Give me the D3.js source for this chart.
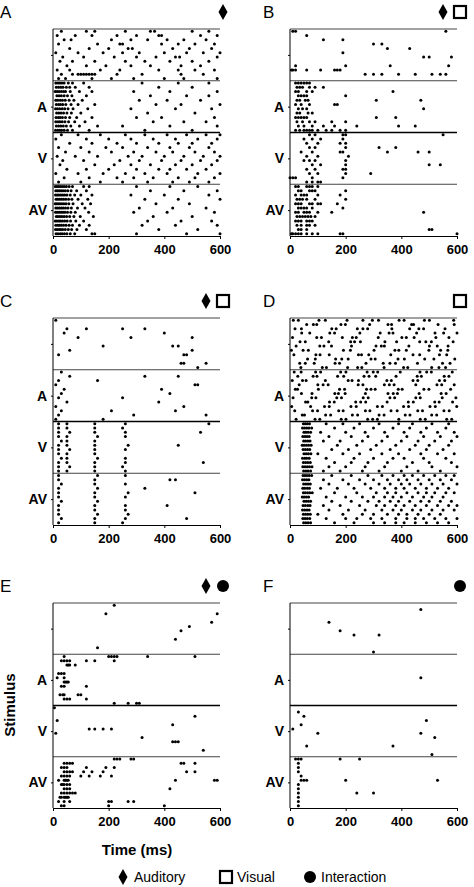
<!DOCTYPE html>
<html><head><meta charset="utf-8">
<script src="https://cdn.jsdelivr.net/npm/d3@7"></script>
<style>body{margin:0;background:#fff}</style>
</head><body><div id="wrapper"></div>
<script>
// spike times (ms) per trial, 4 stimulus blocks per unit: spont, A, V, AV
const sectionLabels = ["", "A", "V", "AV"];
const xTicks = [0, 200, 400, 600];

const unitA = [
 [[30,120,150,260,350,365,500,560],[15,80,140,230,300,380,390,530,590],[40,65,210,280,340,410,470,550],[20,160,240,250,390,450,510,580],[60,130,200,270,285,430,490,570],[10,90,180,250,310,400,480,540,600],[35,110,220,300,370,440,455,590],[25,70,150,260,330,420,500,560],[50,120,190,280,350,460,530],[15,60,170,240,380,450,510,580],[30,70,90,100,110,120,130,140,150,230,320,460,540],[20,45,140,210,290,400,470,590]],
 [[10,18,25,32,40,55,70,110,320,450,560],[12,20,28,36,48,60,80,130,380,500],[8,15,22,30,38,45,62,95,140,290,420,590],[14,22,30,40,52,68,120,350,480,560],[10,17,26,34,44,58,75,105,310,410,530],[12,20,27,35,46,65,90,150,370,460,600],[9,16,24,33,42,54,72,125,280,440,570],[13,21,29,38,50,66,100,340,510],[11,19,26,34,45,60,85,140,300,390,580],[10,18,25,33,43,56,78,115,360,470,550],[12,20,28,37,48,64,95,160,250,420,590],[9,17,24,31,40,52,70,130,330,500]],
 [[30,90,170,260,330,410,480,550,600],[10,120,200,280,360,440,520,590],[60,140,230,300,380,450,500,570],[20,100,190,250,340,420,490,560],[45,130,210,290,370,430,510,580],[15,80,160,270,320,400,470,540,600],[35,110,240,310,390,460,530,590],[25,150,220,280,350,440,500,570],[50,120,200,300,380,420,480,550],[10,90,180,260,330,410,520,600],[40,130,230,290,360,450,510,580],[20,100,170,250,340,430,490,560]],
 [[8,14,20,26,33,40,48,58,70,110,130,300,420,520],[10,16,22,29,36,44,53,65,85,120,350,470,590],[9,15,21,28,35,42,50,62,78,100,140,280,400,560],[11,17,24,31,38,46,56,68,90,125,330,450,600],[8,13,19,25,32,39,47,57,72,105,135,370,490],[10,16,23,30,37,45,54,66,88,115,310,430,550],[9,15,22,29,36,43,52,64,80,128,290,410,580],[12,18,25,32,40,49,60,75,98,145,360,500],[8,14,21,27,34,42,51,63,82,110,340,460,570],[10,17,23,30,38,47,58,70,95,130,320,440,590],[9,15,22,28,35,44,55,67,86,120,380,520],[11,18,26,33,41,50,62,78,140,150,300,480,600]]
];
const unitB = [
 [[10,20,560],[60],[120,190],[300,330],[350,430],[190],[480,500,580],[],[20,200,360,570],[5,10,20,60,110,160,170,180],[270,300,330,390,450,510,540,560],[]],
 [[20,30,40,50,60,70],[25,35,45,70,90,120],[20,30,60,80,370],[30,40,50,60,200],[25,35,55,65,310,470],[20,40,70,160,170],[30,45,60,480],[25,35,65,80],[20,30,40,50,60,310,380],[25,45,70,90,150,200],[30,50,80,120,160,240,390,450],[20,35,50,60,70,80,100,130,150,180,200]],
 [[70,90,190,200,550],[50,80,110,190],[60,100,180,200],[70,90,200,320,380],[40,80,180,190,350,460,500],[60,100,210],[50,70,90,200],[80,110,200,500,540],[60,90,190,200],[70,100,200,290],[0,10,20,80,190],[60,80,100,110]],
 [[20,30,60,70,80,100],[30,40,70,80,90,200],[20,40,50,60,100,180],[25,35,45,60,90,200],[20,30,40,70,80,100,110,170],[30,40,50,60,80,190],[20,30,50,60,70,100,150,480],[25,35,45,55,65,75,90],[20,30,40,60,70,80],[25,40,60,70,90],[30,40,60,500,510],[5,10,20,30,40,60,80,100,180,190,600]]
];
const unitC = [
 [[10],[],[50,120,250,330],[40,400],[90,280,500],[],[180,430,450],[60,500],[20,470,480],[],[460,470,550],[520]],
 [[30],[60,330,450],[20,160],[10,510,520],[40,390],[30,420],[20,250],[50,380],[10,470],[30,210,440],[20,290,550],[10,180]],
 [[20,50,150,260,560],[20,50,150,250],[20,60,150,260,530],[20,50,160,260],[30,50,150],[20,50,150,270,450],[20,60,150,260],[20,50,150],[30,50,160,260],[20,50,150,260,540],[20,60,150,250],[20,50,150,260]],
 [[20,160,260],[20,150,420,440],[30,150,260],[20,160,330],[20,150,270,510],[20,150,260],[30,160],[20,150,260,410],[20,150,260],[20,160,270],[30,150,260,480],[20,150,250]]
];
const unitD = [
 [[12,30,104,127,205,262,296,318,392,410,483,501,588],[60,84,96,183,199,286,352,365,437,444,532,590],[18,41,150,166,242,262,279,366,430,463,480,557],[42,71,143,160,251,324,356,370,455,521,552,600],[9,96,113,188,224,238,317,402,418,446,524,571],[36,55,139,218,232,253,341,383,466,488,508,586],[22,107,122,149,221,309,328,339,427,501,529,568],[5,47,66,192,217,302,377,391,418,499,541,567],[14,93,108,141,246,257,283,362,442,466,537,563],[63,91,164,186,209,291,306,388,411,484,517,592],[35,55,87,162,178,273,335,359,379,458,548,575],[39,116,131,207,243,258,338,408,423,509,535,559]],
 [[15,40,92,110,182,201,277,299,315,396,467,491,508,583],[28,83,97,171,193,266,284,308,381,457,472,554,571],[8,45,58,127,209,223,246,348,364,442,459,537,556],[33,100,119,137,245,262,339,357,374,452,528,545,590],[19,27,102,178,196,275,291,306,389,403,481,499,577],[41,79,161,174,198,271,352,371,386,464,543,561],[11,78,93,168,185,263,281,359,376,452,468,547,596],[56,64,142,159,236,254,272,349,425,443,520,536,584],[6,74,124,141,219,238,314,332,408,426,503,522,599],[17,81,99,175,191,271,287,363,385,459,476,553,572],[44,52,128,146,224,243,320,338,414,431,509,527],[22,90,107,184,201,279,297,314,391,468,486,563,581]],
 [[48,55,62,70,130,190,250,320,390,440,510,570],[45,52,60,68,78,160,230,300,370,430,490,560],[50,57,65,74,110,200,270,340,410,470,530,590],[46,54,61,69,140,220,280,350,420,480,540,600],[49,56,64,72,120,180,260,330,400,460,520,580],[44,51,59,67,76,170,240,310,380,450,500,570],[47,55,63,71,150,210,290,360,430,490,550],[50,58,66,75,100,190,250,330,390,470,530,590],[45,53,60,69,130,230,300,370,410,480,560],[48,56,64,73,160,220,280,350,440,500,580],[46,54,62,70,79,140,200,270,340,420,510,600],[49,57,65,74,120,180,260,320,400,460,540]],
 [[47,54,61,69,78,150,220,280,330,370,410,440,480,520,560,590],[45,52,60,68,120,190,250,300,350,390,420,460,500,540,580],[49,57,65,73,140,210,270,320,360,400,430,470,510,550,600],[46,53,62,70,110,170,230,290,340,380,410,450,490,530,570],[48,55,63,71,80,160,240,310,350,380,420,460,490,520,560,590],[44,51,59,67,130,200,260,300,340,370,400,440,480,510,550],[50,58,66,74,150,220,280,320,360,390,430,470,500,540,580],[47,55,64,72,120,180,250,310,340,380,410,450,490,530,570,600],[45,53,61,69,140,210,270,330,370,400,440,470,510,550,590],[48,56,64,73,100,190,260,300,350,390,420,460,500,540],[46,54,62,71,130,200,240,290,330,380,420,450,480,520,560,600],[49,57,65,74,160,230,300,340,380,410,450,490,530,570]]
];
const unitE = [
 [[220],[],[190,590],[],[570],[490],[460],[],[440],[],[160],[]],
 [[40,200,210,220,230,340,510],[30,40,50,60,120,150,220],[50,55,60,80],[],[20,30,40],[15,40],[40,45,50,55],[30,40,120],[],[25,35,40,90,100],[40,50,60,120],[220,270,300,310]],
 [[5],[],[510],[15],[430],[130,150,180,210],[10],[320],[430,440,450],[],[540],[]],
 [[220,230,240,280,290],[40,50,60,70,460,470,510],[30,40,50,120,190,220],[40,50,60,70,110,140,180,480,510],[30,40,50,60,100,130,170,210],[20,40,45,50,55,440,580,590],[30,35,40,50,60],[40,50,60,420],[30,40,50,60,70,80],[25,30,40,45,50,55],[20,40,60,200,210,270,290],[30,40,200,400]]
];
const unitF = [
 [[],[470],[],[],[140],[],[180],[230,320],[],[],[],[300]],
 [[],[],[],[],[],[470],[],[],[],[],[],[]],
 [[],[30],[50],[490],[40],[10],[100,470],[520],[],[60,370],[],[510]],
 [[20,30,40,180,250],[30],[30],[30],[40],[40,50,60,200,530],[30],[30],[30,240,300],[30],[30],[30]]
];
const units = [unitA, unitB, unitC, unitD, unitE, unitF];
const letters = ["A","B","C","D","E","F"];
const unitMarks = [["diamond"],["diamond","square"],["diamond","square"],["square"],["diamond","circle"],["circle"]];
const legendItems = [["diamond","Auditory"],["square","Visual"],["circle","Interaction"]];

const W = 474, H = 887;
const svg = d3.select("#wrapper").append("svg").attr("width", W).attr("height", H)
  .style("font-family", "Arial, 'Liberation Sans', sans-serif");

const cols = [53, 290], pw = 167;
const rows = [{top: 29, h: 207}, {top: 318, h: 207}, {top: 603, h: 205}];

function drawMark(g, type, x, y) {
  if (type === "diamond") {
    g.append("path").attr("d", "M0,-8L4.5,0L0,8L-4.5,0Z").attr("transform", `translate(${x},${y})`).attr("fill", "#000");
  } else if (type === "square") {
    g.append("rect").attr("x", x - 6).attr("y", y - 6).attr("width", 12).attr("height", 12)
      .attr("fill", "none").attr("stroke", "#000").attr("stroke-width", 2.2);
  } else {
    g.append("circle").attr("cx", x).attr("cy", y).attr("r", 6).attr("fill", "#000");
  }
}

units.forEach((unit, k) => {
  const c = k % 2, r = Math.floor(k / 2);
  const left = cols[c], top = rows[r].top, ph = rows[r].h;
  const g = svg.append("g").attr("transform", `translate(${left},${top})`);
  const x = d3.scaleLinear().domain([0, 600]).range([0, pw]);
  const sec = d3.scaleBand().domain(d3.range(4)).range([0, ph]);

  // spikes
  unit.forEach((trials, s) => {
    const ty = d3.scaleBand().domain(d3.range(trials.length)).range([sec(s), sec(s) + sec.bandwidth()]);
    trials.forEach((times, t) => {
      g.selectAll(null).data(times).enter().append("circle")
        .attr("cx", d => x(d)).attr("cy", ty(t) + ty.bandwidth() / 2)
        .attr("r", 1.5).attr("fill", "#000");
    });
  });

  // section lines
  g.selectAll("line.sep").data(d3.range(4)).enter().append("line")
    .attr("x1", 0).attr("x2", pw).attr("y1", d => sec(d)).attr("y2", d => sec(d))
    .attr("stroke", d => d === 2 ? "#000" : "#444").attr("stroke-width", d => d === 2 ? 1.5 : 1);

  // x axis
  const xa = g.append("g").attr("transform", `translate(0,${ph})`)
    .call(d3.axisBottom(x).tickValues(xTicks).tickSize(3).tickSizeOuter(0));
  xa.select(".domain").attr("stroke", "#000");
  xa.selectAll("text").attr("font-size", 13).attr("font-weight", "bold").attr("dy", "0.9em").attr("fill", "#000");

  // y axis
  const ya = g.append("g").call(d3.axisLeft(d3.scalePoint().domain(d3.range(4)).range([sec.bandwidth() / 2, ph - sec.bandwidth() / 2]))
    .tickFormat(i => sectionLabels[i]).tickSize(2).tickSizeOuter(0));
  ya.select(".domain").attr("d", `M0,0V${ph}`).attr("stroke", "#000");
  ya.selectAll("text").attr("font-size", 14).attr("font-weight", "bold").attr("fill", "#000").attr("x", -6);

  // panel letter & symbols
  svg.append("text").attr("x", c ? 263 : 0).attr("y", top - 11).attr("font-size", 17).text(letters[k]);
  const marks = unitMarks[k];
  marks.forEach((m, i) => drawMark(svg, m, left + pw + 3 - (marks.length - 1 - i) * 17, top - 17));
});

svg.append("text").attr("transform", "translate(15,705) rotate(-90)").attr("text-anchor", "middle")
  .attr("font-size", 15).attr("font-weight", "bold").text("Stimulus");
svg.append("text").attr("x", 137).attr("y", 855).attr("text-anchor", "middle")
  .attr("font-size", 15).attr("font-weight", "bold").text("Time (ms)");

const lx = [123, 226, 310];
legendItems.forEach(([m, label], i) => {
  drawMark(svg, m, lx[i], 877);
  svg.append("text").attr("x", lx[i] + 11).attr("y", 882).attr("font-size", 14).text(label);
});
</script>
</body></html>
